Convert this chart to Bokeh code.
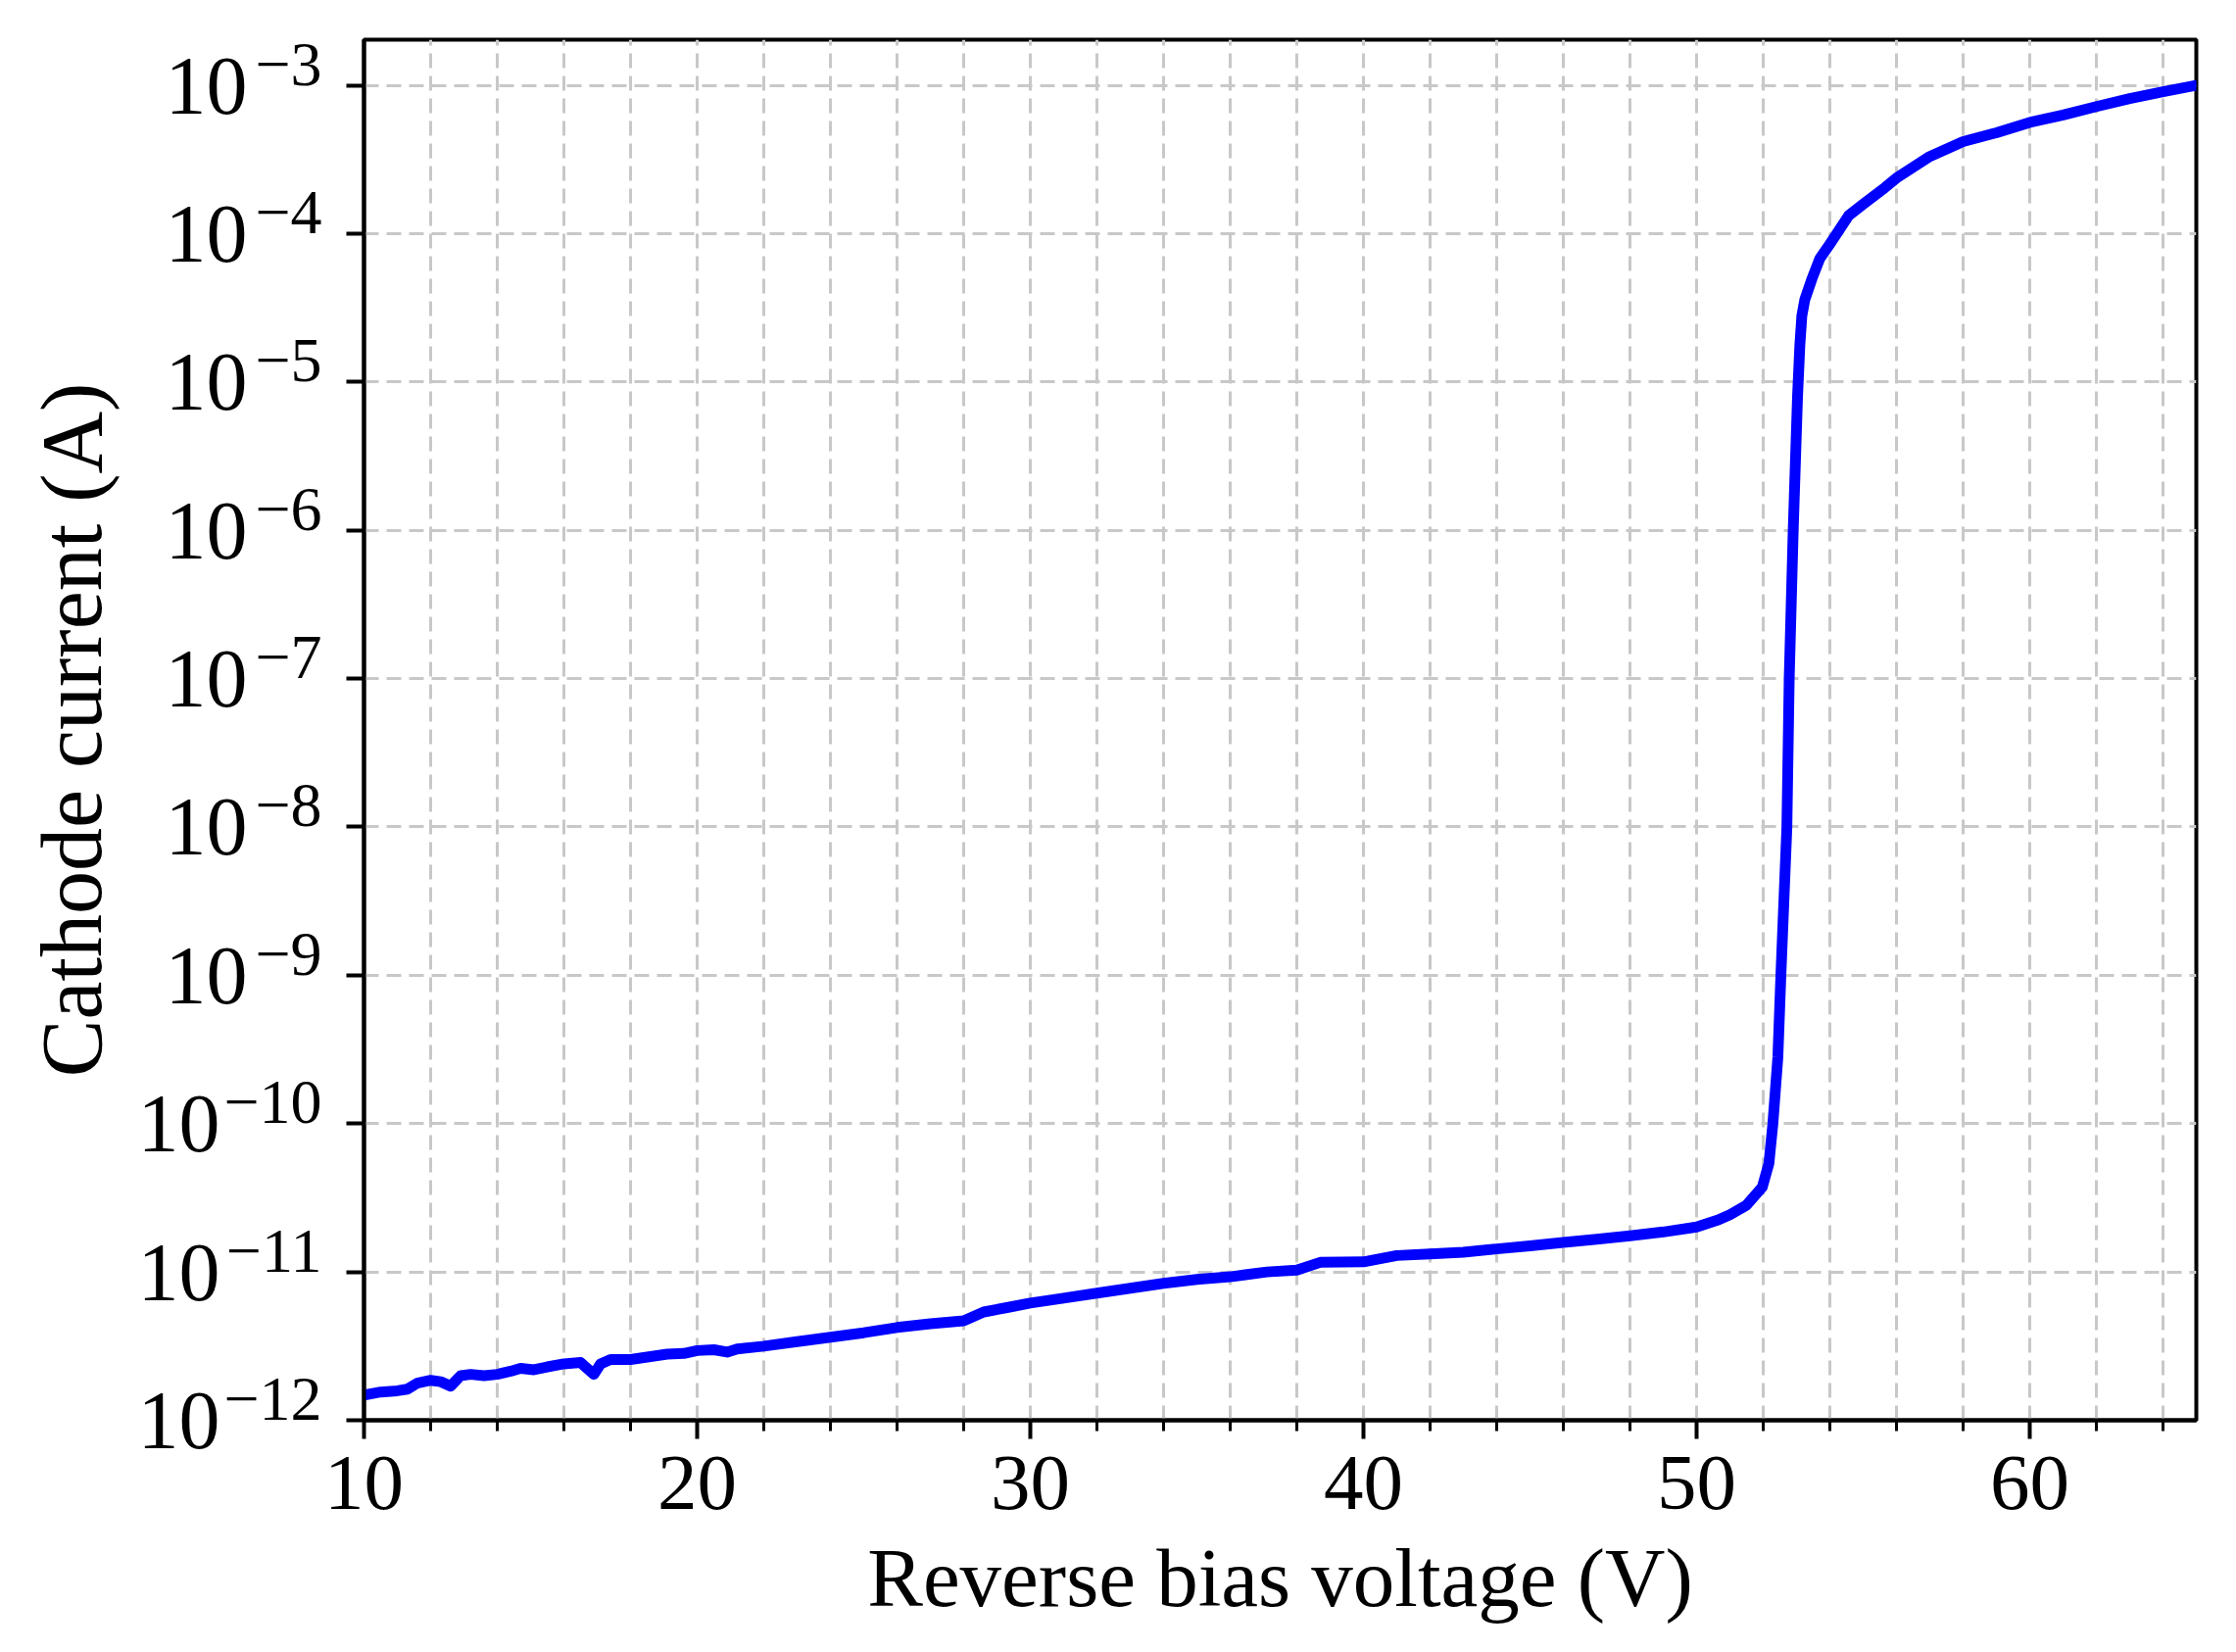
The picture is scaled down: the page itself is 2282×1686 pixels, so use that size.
from bokeh.plotting import figure
from bokeh.models import (Range1d, FixedTicker, CustomJSTickFormatter, LogAxis,
                          LogScale)
from bokeh.embed import file_html
from bokeh.resources import INLINE

# Reverse bias voltage (V)
voltage = [10.0, 10.5, 11.0, 11.3, 11.6, 12.0, 12.3, 12.6, 12.9, 13.2, 13.6, 14.0,
           14.4, 14.7, 15.1, 15.5, 16.0, 16.5, 16.9, 17.1, 17.4, 18.0, 18.6, 19.1,
           19.6, 20.0, 20.5, 20.9, 21.2, 22.0, 23.0, 24.0, 25.0, 26.0, 27.0, 28.0,
           28.6, 29.3, 30.0, 30.9, 32.0, 33.0, 34.0, 35.0, 36.0, 37.1, 38.0, 38.7,
           40.0, 41.0, 42.0, 43.0, 44.0, 45.0, 46.0, 47.0, 48.0, 49.0, 50.0, 50.65,
           51.0, 51.5, 51.97, 52.17, 52.29, 52.44, 52.53, 52.71, 52.78, 52.90, 53.03,
           53.10, 53.16, 53.25, 53.47, 53.7, 54.0, 54.56, 55.0, 55.65, 56.0, 57.0,
           58.0, 59.0, 60.0, 61.0, 62.0, 63.0, 64.0, 65.0]

# Cathode current (A)
current = [1.48e-12, 1.55e-12, 1.58e-12, 1.62e-12, 1.78e-12, 1.86e-12, 1.82e-12,
           1.70e-12, 2.00e-12, 2.04e-12, 2.00e-12, 2.04e-12, 2.14e-12, 2.24e-12,
           2.19e-12, 2.29e-12, 2.40e-12, 2.45e-12, 2.04e-12, 2.40e-12, 2.57e-12,
           2.57e-12, 2.69e-12, 2.79e-12, 2.82e-12, 2.95e-12, 2.99e-12, 2.88e-12,
           3.02e-12, 3.16e-12, 3.39e-12, 3.63e-12, 3.89e-12, 4.22e-12, 4.47e-12,
           4.68e-12, 5.37e-12, 5.75e-12, 6.17e-12, 6.61e-12, 7.19e-12, 7.76e-12,
           8.38e-12, 8.91e-12, 9.27e-12, 1.00e-11, 1.03e-11, 1.16e-11, 1.17e-11,
           1.29e-11, 1.32e-11, 1.36e-11, 1.43e-11, 1.50e-11, 1.58e-11, 1.66e-11,
           1.75e-11, 1.86e-11, 2.01e-11, 2.24e-11, 2.43e-11, 2.82e-11, 3.72e-11,
           5.37e-11, 1.0e-10, 2.82e-10, 1.0e-9, 1.0e-8, 1.0e-7, 1.0e-6, 8.0e-6,
           1.78e-5, 2.8e-5, 3.6e-5, 5.01e-5, 6.8e-5, 8.51e-5, 1.32e-4, 1.58e-4,
           2.04e-4, 2.37e-4, 3.31e-4, 4.17e-4, 4.79e-4, 5.62e-4, 6.31e-4, 7.19e-4,
           8.13e-4, 9.04e-4, 1.0e-3]

x_major_ticks = [10, 20, 30, 40, 50, 60]
x_minor_ticks = [12, 14, 16, 18, 22, 24, 26, 28, 32, 34, 36, 38, 42, 44, 46, 48,
                 52, 54, 56, 58, 62, 64]
y_major_ticks = [1e-12, 1e-11, 1e-10, 1e-9, 1e-8, 1e-7, 1e-6, 1e-5, 1e-4, 1e-3]
# tick labels "10" with a superscript exponent
y_tick_exponent_labels = ["\u221212", "\u221211", "\u221210", "\u22129", "\u22128",
                          "\u22127", "\u22126", "\u22125", "\u22124", "\u22123"]
y_tick_base_labels = ["10\u2008\u200a", "10\u2008\u200a", "10\u2008\u200a",
                      "10", "10", "10", "10", "10", "10", "10"]

X_START, X_END = 10, 65
Y_START, Y_END = 1e-12, 2.03e-3
EXPO_RAISE_DECADES = 0.142   # superscript raised above the tick line

FONT = "Liberation Serif"

p = figure(width=2266, height=1670, y_axis_type="log",
           x_range=Range1d(X_START, X_END), y_range=Range1d(Y_START, Y_END),
           output_backend="svg", toolbar_location=None,
           min_border_left=371, min_border_right=25,
           min_border_top=40, min_border_bottom=221,
           background_fill_color="white", border_fill_color="white")

shift = 10 ** (-EXPO_RAISE_DECADES)
p.extra_y_ranges = {"expo": Range1d(Y_START * shift, Y_END * shift)}
p.extra_y_scales = {"expo": LogScale()}

p.line(voltage, current, line_color="#0000ff", line_width=11,
       line_join="round", line_cap="round")

p.outline_line_color = "black"
p.outline_line_width = 4
p.outline_line_alpha = 1.0

# x axis
xa = p.xaxis[0]
xa.ticker = FixedTicker(ticks=x_major_ticks, minor_ticks=x_minor_ticks)
xa.axis_label = "Reverse bias voltage (V)"
xa.axis_label_text_font = FONT
xa.axis_label_text_font_size = "85px"
xa.axis_label_text_font_style = "normal"
xa.axis_label_text_color = "black"
xa.axis_label_standoff = 20
xa.major_label_text_font = FONT
xa.major_label_text_font_size = "81px"
xa.major_label_text_color = "black"
xa.major_label_standoff = 18
xa.axis_line_width = 4
xa.axis_line_color = "black"
xa.major_tick_line_width = 4
xa.major_tick_line_color = "black"
xa.major_tick_out = 19
xa.major_tick_in = 0
xa.minor_tick_line_width = 3
xa.minor_tick_line_color = "black"
xa.minor_tick_out = 11
xa.minor_tick_in = 0

LABEL_JS = """
let best = -1, bd = 1e9;
for (let i = 0; i < tick_values.length; i++) {
  const d = Math.abs(Math.log10(tick_values[i]) - Math.log10(tick));
  if (d < bd) { bd = d; best = i; }
}
return (best >= 0 && bd < 1e-6) ? labels[best] : "";
"""

# y axis 1: line and ticks only
ya = p.yaxis[0]
ya.ticker = FixedTicker(ticks=y_major_ticks, minor_ticks=[])
ya.formatter = CustomJSTickFormatter(code="return ''")
ya.major_label_standoff = 0
ya.axis_line_width = 4
ya.axis_line_color = "black"
ya.major_tick_line_width = 4
ya.major_tick_line_color = "black"
ya.major_tick_out = 18
ya.major_tick_in = 0
ya.minor_tick_line_color = None

# y axis 2: exponents (raised)
expo_axis = LogAxis(
    y_range_name="expo",
    ticker=FixedTicker(ticks=y_major_ticks, minor_ticks=[]),
    formatter=CustomJSTickFormatter(
        args=dict(tick_values=y_major_ticks, labels=y_tick_exponent_labels),
        code=LABEL_JS),
    axis_line_color=None, major_tick_line_color=None, minor_tick_line_color=None,
    major_tick_out=0, major_tick_in=0, minor_tick_out=0, minor_tick_in=0,
    major_label_standoff=25,
    major_label_text_font=FONT, major_label_text_font_size="64px",
    major_label_text_color="black")
p.add_layout(expo_axis, "left")

# y axis 3: bases "10" and the axis title
base_axis = LogAxis(
    ticker=FixedTicker(ticks=y_major_ticks, minor_ticks=[]),
    formatter=CustomJSTickFormatter(
        args=dict(tick_values=y_major_ticks, labels=y_tick_base_labels),
        code=LABEL_JS),
    axis_line_color=None, major_tick_line_color=None, minor_tick_line_color=None,
    major_tick_out=0, major_tick_in=0, minor_tick_out=0, minor_tick_in=0,
    major_label_standoff=-27,
    major_label_text_font=FONT, major_label_text_font_size="84px",
    major_label_text_color="black",
    axis_label="Cathode current (A)",
    axis_label_text_font=FONT, axis_label_text_font_size="88px",
    axis_label_text_font_style="normal", axis_label_text_color="black",
    axis_label_standoff=15)
p.add_layout(base_axis, "left")

# grids
p.xgrid.ticker = FixedTicker(ticks=x_major_ticks, minor_ticks=x_minor_ticks)
p.xgrid.grid_line_color = "#c8c8c8"
p.xgrid.grid_line_width = 3
p.xgrid.grid_line_dash = "15 8"
p.xgrid.minor_grid_line_color = "#c8c8c8"
p.xgrid.minor_grid_line_width = 3
p.xgrid.minor_grid_line_dash = "15 8"

p.ygrid.ticker = FixedTicker(ticks=y_major_ticks, minor_ticks=[])
p.ygrid.grid_line_color = "#c8c8c8"
p.ygrid.grid_line_width = 3
p.ygrid.grid_line_dash = "15 8"
p.ygrid.minor_grid_line_color = None

open("out.html", "w").write(file_html(p, INLINE))
